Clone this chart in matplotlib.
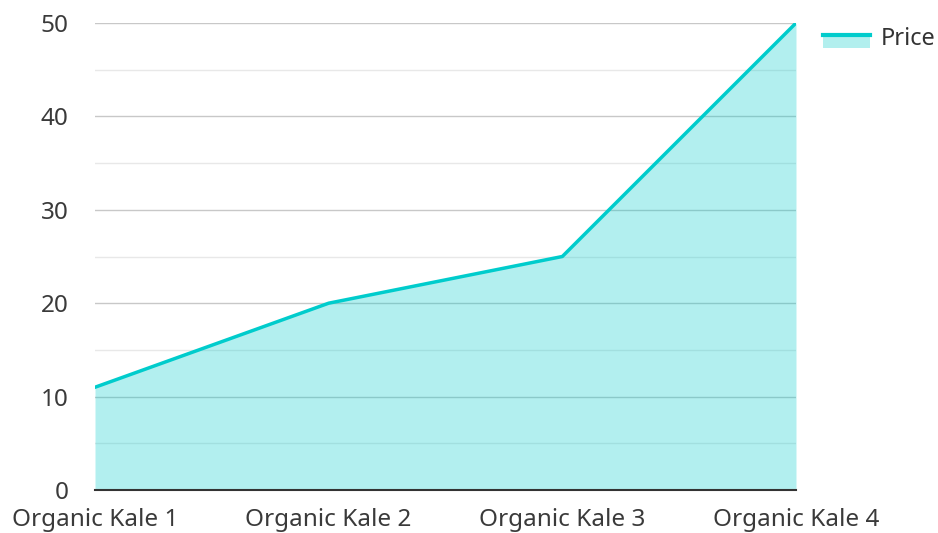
import matplotlib.pyplot as plt
from matplotlib.patches import Rectangle
from matplotlib.lines import Line2D
from matplotlib.legend_handler import HandlerBase

plt.rcParams['font.family'] = ['Noto Sans', 'DejaVu Sans']

categories = ["Organic Kale 1", "Organic Kale 2", "Organic Kale 3", "Organic Kale 4"]
prices = [11, 20, 25, 50]
series_name = "Price"

line_color = "#00CCCC"
fill_color = "#B2EFEE"


class AreaHandler(HandlerBase):
    # line on top, filled band under it, like the area legend key
    def create_artists(self, legend, orig_handle, xdescent, ydescent,
                       width, height, fontsize, trans):
        top = height * 0.6 - ydescent
        rect = Rectangle((-xdescent, top - height * 0.75), width, height * 0.75,
                         facecolor=fill_color, edgecolor="none", transform=trans)
        line = Line2D([-xdescent, width - xdescent], [top, top],
                      color=line_color, linewidth=3, transform=trans)
        return [rect, line]


fig = plt.figure(figsize=(9.38, 5.33), dpi=100)
ax = fig.add_axes([95 / 938, 43 / 533, 701 / 938, 467 / 533])

x = list(range(len(categories)))
ax.fill_between(x, prices, 0, color=line_color, alpha=0.3, linewidth=0, zorder=3)
ax.plot(x, prices, color=line_color, linewidth=2.5, zorder=4)

ax.set_xlim(0, len(categories) - 1)
ax.set_ylim(0, 50)
ax.set_yticks(range(0, 51, 10))
ax.set_yticks(range(5, 50, 10), minor=True)
ax.set_xticks(x)
ax.set_xticklabels(categories)

ax.grid(which="major", axis="y", color="#c8c8c8", linewidth=1, zorder=1)
ax.grid(which="minor", axis="y", color="#e8e8e8", linewidth=1, zorder=1)
ax.set_axisbelow(True)

for side in ["top", "right", "left"]:
    ax.spines[side].set_visible(False)
ax.spines["bottom"].set_color("#333333")
ax.spines["bottom"].set_linewidth(1.5)
ax.spines["bottom"].set_zorder(5)

ax.tick_params(axis="both", which="both", length=0, labelsize=17.5, labelcolor="#3a3a3a")
ax.tick_params(axis="y", pad=19)
ax.tick_params(axis="x", pad=13)

fig.legend([object()], [series_name], handler_map={object: AreaHandler()},
           loc="upper left", bbox_to_anchor=(802 / 938, 1 - 6 / 533),
           frameon=False, fontsize=17, handlelength=2.0, handletextpad=0.45,
           labelcolor="#333333")

fig.savefig("out.png", dpi=100)
